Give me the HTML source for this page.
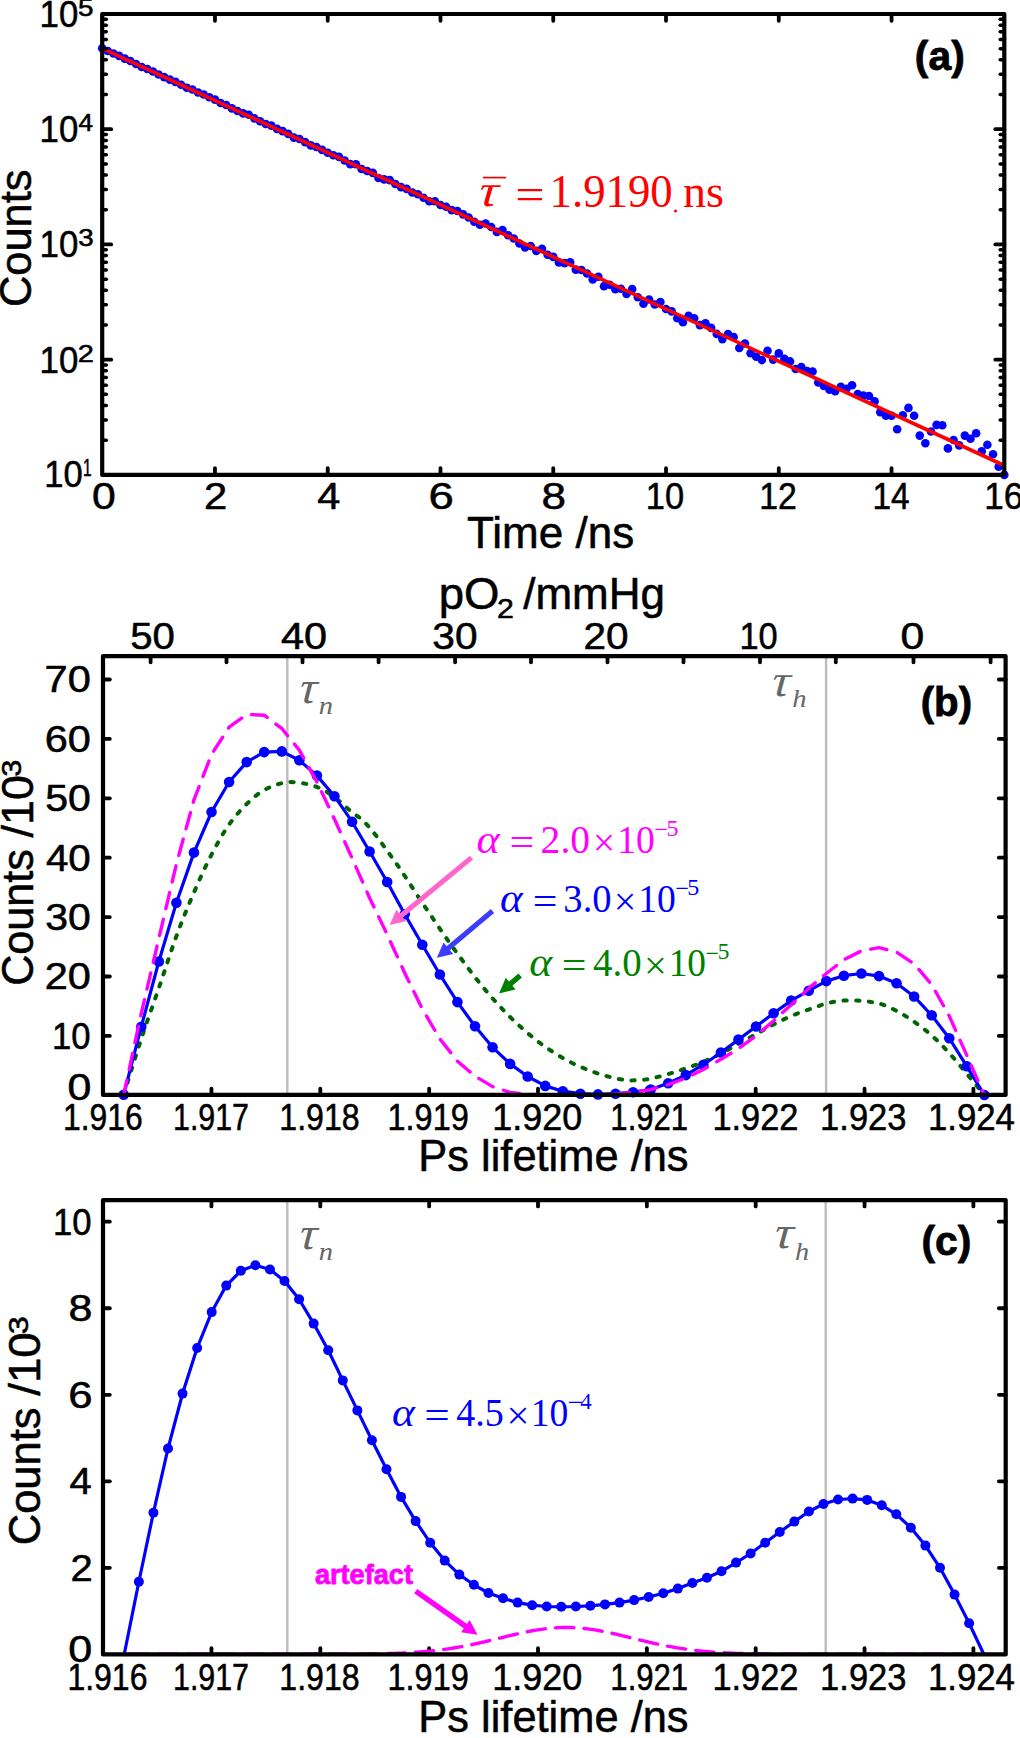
<!DOCTYPE html>
<html lang="en"><head><meta charset="utf-8"><title>Figure</title>
<style>html,body{margin:0;padding:0;background:#fff}svg{display:block}text{white-space:pre}</style></head>
<body>
<svg width="1020" height="1738" viewBox="0 0 1020 1738">
<rect width="1020" height="1738" fill="#fff"/>
<g fill="#0000ff"><circle cx="102.20" cy="48.30" r="4.3"/><circle cx="107.84" cy="50.99" r="4.3"/><circle cx="113.48" cy="53.44" r="4.3"/><circle cx="119.11" cy="55.87" r="4.3"/><circle cx="124.75" cy="58.60" r="4.3"/><circle cx="130.39" cy="61.04" r="4.3"/><circle cx="136.03" cy="63.96" r="4.3"/><circle cx="141.67" cy="66.98" r="4.3"/><circle cx="147.31" cy="69.00" r="4.3"/><circle cx="152.94" cy="71.56" r="4.3"/><circle cx="158.58" cy="74.54" r="4.3"/><circle cx="164.22" cy="77.11" r="4.3"/><circle cx="169.86" cy="79.63" r="4.3"/><circle cx="175.50" cy="81.85" r="4.3"/><circle cx="181.13" cy="84.79" r="4.3"/><circle cx="186.77" cy="87.68" r="4.3"/><circle cx="192.41" cy="89.48" r="4.3"/><circle cx="198.05" cy="92.44" r="4.3"/><circle cx="203.69" cy="94.44" r="4.3"/><circle cx="209.32" cy="97.29" r="4.3"/><circle cx="214.96" cy="99.63" r="4.3"/><circle cx="220.60" cy="102.95" r="4.3"/><circle cx="226.24" cy="105.07" r="4.3"/><circle cx="231.88" cy="108.40" r="4.3"/><circle cx="237.51" cy="110.96" r="4.3"/><circle cx="243.15" cy="113.39" r="4.3"/><circle cx="248.79" cy="114.79" r="4.3"/><circle cx="254.43" cy="118.42" r="4.3"/><circle cx="260.07" cy="121.28" r="4.3"/><circle cx="265.71" cy="123.98" r="4.3"/><circle cx="271.34" cy="125.65" r="4.3"/><circle cx="276.98" cy="128.85" r="4.3"/><circle cx="282.62" cy="131.15" r="4.3"/><circle cx="288.26" cy="133.84" r="4.3"/><circle cx="293.90" cy="137.63" r="4.3"/><circle cx="299.53" cy="139.03" r="4.3"/><circle cx="305.17" cy="142.15" r="4.3"/><circle cx="310.81" cy="145.39" r="4.3"/><circle cx="316.45" cy="146.97" r="4.3"/><circle cx="322.09" cy="149.91" r="4.3"/><circle cx="327.73" cy="152.68" r="4.3"/><circle cx="333.36" cy="155.26" r="4.3"/><circle cx="339.00" cy="156.85" r="4.3"/><circle cx="344.64" cy="160.48" r="4.3"/><circle cx="350.28" cy="164.16" r="4.3"/><circle cx="355.92" cy="164.32" r="4.3"/><circle cx="361.55" cy="168.99" r="4.3"/><circle cx="367.19" cy="170.96" r="4.3"/><circle cx="372.83" cy="172.87" r="4.3"/><circle cx="378.47" cy="177.95" r="4.3"/><circle cx="384.11" cy="179.41" r="4.3"/><circle cx="389.74" cy="180.09" r="4.3"/><circle cx="395.38" cy="183.97" r="4.3"/><circle cx="401.02" cy="187.10" r="4.3"/><circle cx="406.66" cy="188.90" r="4.3"/><circle cx="412.30" cy="192.47" r="4.3"/><circle cx="417.93" cy="194.24" r="4.3"/><circle cx="423.57" cy="197.70" r="4.3"/><circle cx="429.21" cy="201.25" r="4.3"/><circle cx="434.85" cy="201.32" r="4.3"/><circle cx="440.49" cy="205.01" r="4.3"/><circle cx="446.13" cy="206.76" r="4.3"/><circle cx="451.76" cy="210.13" r="4.3"/><circle cx="457.40" cy="210.96" r="4.3"/><circle cx="463.04" cy="214.37" r="4.3"/><circle cx="468.68" cy="217.51" r="4.3"/><circle cx="474.32" cy="221.72" r="4.3"/><circle cx="479.95" cy="224.73" r="4.3"/><circle cx="485.59" cy="223.56" r="4.3"/><circle cx="491.23" cy="226.96" r="4.3"/><circle cx="496.87" cy="231.88" r="4.3"/><circle cx="502.51" cy="230.10" r="4.3"/><circle cx="508.14" cy="235.24" r="4.3"/><circle cx="513.78" cy="238.48" r="4.3"/><circle cx="519.42" cy="243.53" r="4.3"/><circle cx="525.06" cy="247.36" r="4.3"/><circle cx="530.70" cy="245.97" r="4.3"/><circle cx="536.34" cy="250.88" r="4.3"/><circle cx="541.97" cy="248.69" r="4.3"/><circle cx="547.61" cy="254.79" r="4.3"/><circle cx="553.25" cy="256.90" r="4.3"/><circle cx="558.89" cy="262.51" r="4.3"/><circle cx="564.53" cy="263.12" r="4.3"/><circle cx="570.16" cy="262.22" r="4.3"/><circle cx="575.80" cy="269.63" r="4.3"/><circle cx="581.44" cy="269.94" r="4.3"/><circle cx="587.08" cy="273.54" r="4.3"/><circle cx="592.72" cy="279.45" r="4.3"/><circle cx="598.35" cy="276.76" r="4.3"/><circle cx="603.99" cy="286.17" r="4.3"/><circle cx="609.63" cy="284.78" r="4.3"/><circle cx="615.27" cy="289.28" r="4.3"/><circle cx="620.91" cy="288.69" r="4.3"/><circle cx="626.55" cy="294.00" r="4.3"/><circle cx="632.18" cy="289.10" r="4.3"/><circle cx="637.82" cy="297.21" r="4.3"/><circle cx="643.46" cy="303.82" r="4.3"/><circle cx="649.10" cy="299.53" r="4.3"/><circle cx="654.74" cy="304.44" r="4.3"/><circle cx="660.37" cy="301.94" r="4.3"/><circle cx="666.01" cy="309.05" r="4.3"/><circle cx="671.65" cy="311.36" r="4.3"/><circle cx="677.29" cy="318.17" r="4.3"/><circle cx="682.93" cy="322.17" r="4.3"/><circle cx="688.57" cy="315.68" r="4.3"/><circle cx="694.20" cy="318.19" r="4.3"/><circle cx="699.84" cy="325.09" r="4.3"/><circle cx="705.48" cy="323.30" r="4.3"/><circle cx="711.12" cy="327.91" r="4.3"/><circle cx="716.76" cy="333.92" r="4.3"/><circle cx="722.39" cy="339.12" r="4.3"/><circle cx="728.03" cy="333.93" r="4.3"/><circle cx="733.67" cy="337.04" r="4.3"/><circle cx="739.31" cy="347.95" r="4.3"/><circle cx="744.95" cy="343.56" r="4.3"/><circle cx="750.58" cy="353.16" r="4.3"/><circle cx="756.22" cy="356.77" r="4.3"/><circle cx="761.86" cy="360.08" r="4.3"/><circle cx="767.50" cy="350.69" r="4.3"/><circle cx="773.14" cy="359.59" r="4.3"/><circle cx="778.77" cy="353.40" r="4.3"/><circle cx="784.41" cy="358.81" r="4.3"/><circle cx="790.05" cy="361.42" r="4.3"/><circle cx="795.69" cy="369.02" r="4.3"/><circle cx="801.33" cy="366.93" r="4.3"/><circle cx="806.97" cy="371.04" r="4.3"/><circle cx="812.60" cy="371.54" r="4.3"/><circle cx="818.24" cy="382.45" r="4.3"/><circle cx="823.88" cy="386.06" r="4.3"/><circle cx="829.52" cy="389.67" r="4.3"/><circle cx="835.16" cy="391.28" r="4.3"/><circle cx="840.79" cy="386.88" r="4.3"/><circle cx="846.43" cy="388.79" r="4.3"/><circle cx="852.07" cy="385.20" r="4.3"/><circle cx="857.71" cy="394.10" r="4.3"/><circle cx="863.35" cy="395.60" r="4.3"/><circle cx="868.99" cy="396.00" r="4.3"/><circle cx="874.62" cy="401.40" r="4.3"/><circle cx="880.26" cy="412.20" r="4.3"/><circle cx="885.90" cy="415.70" r="4.3"/><circle cx="891.54" cy="415.70" r="4.3"/><circle cx="897.18" cy="429.30" r="4.3"/><circle cx="902.81" cy="415.30" r="4.3"/><circle cx="908.45" cy="407.90" r="4.3"/><circle cx="914.09" cy="415.70" r="4.3"/><circle cx="919.73" cy="435.60" r="4.3"/><circle cx="925.37" cy="443.20" r="4.3"/><circle cx="931.00" cy="431.50" r="4.3"/><circle cx="936.64" cy="424.90" r="4.3"/><circle cx="942.28" cy="425.30" r="4.3"/><circle cx="947.92" cy="448.40" r="4.3"/><circle cx="953.56" cy="440.00" r="4.3"/><circle cx="959.19" cy="445.40" r="4.3"/><circle cx="964.83" cy="435.60" r="4.3"/><circle cx="970.47" cy="438.80" r="4.3"/><circle cx="976.11" cy="433.20" r="4.3"/><circle cx="981.75" cy="451.30" r="4.3"/><circle cx="987.39" cy="444.70" r="4.3"/><circle cx="993.02" cy="454.30" r="4.3"/><circle cx="998.66" cy="466.80" r="4.3"/><circle cx="1004.30" cy="474.90" r="4.3"/></g>
<line x1="102.20" y1="48.30" x2="1004.30" y2="465.50" stroke="#ff0000" stroke-width="3.6" stroke-linecap="butt" />
<rect x="102.20" y="14.00" width="902.10" height="460.90" fill="none" stroke="#000" stroke-width="4.2" stroke-linejoin="round"/>
<g stroke="#000" stroke-width="3.8" stroke-linecap="round">
<line x1="214.96" y1="474.9" x2="214.96" y2="468.10"/><line x1="214.96" y1="14.0" x2="214.96" y2="20.80"/>
<line x1="327.72" y1="474.9" x2="327.72" y2="468.10"/><line x1="327.72" y1="14.0" x2="327.72" y2="20.80"/>
<line x1="440.49" y1="474.9" x2="440.49" y2="468.10"/><line x1="440.49" y1="14.0" x2="440.49" y2="20.80"/>
<line x1="553.25" y1="474.9" x2="553.25" y2="468.10"/><line x1="553.25" y1="14.0" x2="553.25" y2="20.80"/>
<line x1="666.01" y1="474.9" x2="666.01" y2="468.10"/><line x1="666.01" y1="14.0" x2="666.01" y2="20.80"/>
<line x1="778.77" y1="474.9" x2="778.77" y2="468.10"/><line x1="778.77" y1="14.0" x2="778.77" y2="20.80"/>
<line x1="891.54" y1="474.9" x2="891.54" y2="468.10"/><line x1="891.54" y1="14.0" x2="891.54" y2="20.80"/>
<line x1="102.2" y1="94.54" x2="106.30" y2="94.54" stroke-width="3.5"/><line x1="1004.3" y1="94.54" x2="1000.20" y2="94.54" stroke-width="3.5"/>
<line x1="102.2" y1="74.25" x2="106.30" y2="74.25" stroke-width="3.5"/><line x1="1004.3" y1="74.25" x2="1000.20" y2="74.25" stroke-width="3.5"/>
<line x1="102.2" y1="59.85" x2="106.30" y2="59.85" stroke-width="3.5"/><line x1="1004.3" y1="59.85" x2="1000.20" y2="59.85" stroke-width="3.5"/>
<line x1="102.2" y1="48.69" x2="106.30" y2="48.69" stroke-width="3.5"/><line x1="1004.3" y1="48.69" x2="1000.20" y2="48.69" stroke-width="3.5"/>
<line x1="102.2" y1="39.56" x2="106.30" y2="39.56" stroke-width="3.5"/><line x1="1004.3" y1="39.56" x2="1000.20" y2="39.56" stroke-width="3.5"/>
<line x1="102.2" y1="31.85" x2="106.30" y2="31.85" stroke-width="3.5"/><line x1="1004.3" y1="31.85" x2="1000.20" y2="31.85" stroke-width="3.5"/>
<line x1="102.2" y1="25.17" x2="106.30" y2="25.17" stroke-width="3.5"/><line x1="1004.3" y1="25.17" x2="1000.20" y2="25.17" stroke-width="3.5"/>
<line x1="102.2" y1="19.27" x2="106.30" y2="19.27" stroke-width="3.5"/><line x1="1004.3" y1="19.27" x2="1000.20" y2="19.27" stroke-width="3.5"/>
<line x1="102.2" y1="129.22" x2="111.20" y2="129.22"/><line x1="1004.3" y1="129.22" x2="995.30" y2="129.22"/>
<line x1="102.2" y1="209.76" x2="106.30" y2="209.76" stroke-width="3.5"/><line x1="1004.3" y1="209.76" x2="1000.20" y2="209.76" stroke-width="3.5"/>
<line x1="102.2" y1="189.47" x2="106.30" y2="189.47" stroke-width="3.5"/><line x1="1004.3" y1="189.47" x2="1000.20" y2="189.47" stroke-width="3.5"/>
<line x1="102.2" y1="175.08" x2="106.30" y2="175.08" stroke-width="3.5"/><line x1="1004.3" y1="175.08" x2="1000.20" y2="175.08" stroke-width="3.5"/>
<line x1="102.2" y1="163.91" x2="106.30" y2="163.91" stroke-width="3.5"/><line x1="1004.3" y1="163.91" x2="1000.20" y2="163.91" stroke-width="3.5"/>
<line x1="102.2" y1="154.79" x2="106.30" y2="154.79" stroke-width="3.5"/><line x1="1004.3" y1="154.79" x2="1000.20" y2="154.79" stroke-width="3.5"/>
<line x1="102.2" y1="147.07" x2="106.30" y2="147.07" stroke-width="3.5"/><line x1="1004.3" y1="147.07" x2="1000.20" y2="147.07" stroke-width="3.5"/>
<line x1="102.2" y1="140.39" x2="106.30" y2="140.39" stroke-width="3.5"/><line x1="1004.3" y1="140.39" x2="1000.20" y2="140.39" stroke-width="3.5"/>
<line x1="102.2" y1="134.50" x2="106.30" y2="134.50" stroke-width="3.5"/><line x1="1004.3" y1="134.50" x2="1000.20" y2="134.50" stroke-width="3.5"/>
<line x1="102.2" y1="244.45" x2="111.20" y2="244.45"/><line x1="1004.3" y1="244.45" x2="995.30" y2="244.45"/>
<line x1="102.2" y1="324.99" x2="106.30" y2="324.99" stroke-width="3.5"/><line x1="1004.3" y1="324.99" x2="1000.20" y2="324.99" stroke-width="3.5"/>
<line x1="102.2" y1="304.70" x2="106.30" y2="304.70" stroke-width="3.5"/><line x1="1004.3" y1="304.70" x2="1000.20" y2="304.70" stroke-width="3.5"/>
<line x1="102.2" y1="290.30" x2="106.30" y2="290.30" stroke-width="3.5"/><line x1="1004.3" y1="290.30" x2="1000.20" y2="290.30" stroke-width="3.5"/>
<line x1="102.2" y1="279.14" x2="106.30" y2="279.14" stroke-width="3.5"/><line x1="1004.3" y1="279.14" x2="1000.20" y2="279.14" stroke-width="3.5"/>
<line x1="102.2" y1="270.01" x2="106.30" y2="270.01" stroke-width="3.5"/><line x1="1004.3" y1="270.01" x2="1000.20" y2="270.01" stroke-width="3.5"/>
<line x1="102.2" y1="262.30" x2="106.30" y2="262.30" stroke-width="3.5"/><line x1="1004.3" y1="262.30" x2="1000.20" y2="262.30" stroke-width="3.5"/>
<line x1="102.2" y1="255.62" x2="106.30" y2="255.62" stroke-width="3.5"/><line x1="1004.3" y1="255.62" x2="1000.20" y2="255.62" stroke-width="3.5"/>
<line x1="102.2" y1="249.72" x2="106.30" y2="249.72" stroke-width="3.5"/><line x1="1004.3" y1="249.72" x2="1000.20" y2="249.72" stroke-width="3.5"/>
<line x1="102.2" y1="359.67" x2="111.20" y2="359.67"/><line x1="1004.3" y1="359.67" x2="995.30" y2="359.67"/>
<line x1="102.2" y1="440.21" x2="106.30" y2="440.21" stroke-width="3.5"/><line x1="1004.3" y1="440.21" x2="1000.20" y2="440.21" stroke-width="3.5"/>
<line x1="102.2" y1="419.92" x2="106.30" y2="419.92" stroke-width="3.5"/><line x1="1004.3" y1="419.92" x2="1000.20" y2="419.92" stroke-width="3.5"/>
<line x1="102.2" y1="405.53" x2="106.30" y2="405.53" stroke-width="3.5"/><line x1="1004.3" y1="405.53" x2="1000.20" y2="405.53" stroke-width="3.5"/>
<line x1="102.2" y1="394.36" x2="106.30" y2="394.36" stroke-width="3.5"/><line x1="1004.3" y1="394.36" x2="1000.20" y2="394.36" stroke-width="3.5"/>
<line x1="102.2" y1="385.24" x2="106.30" y2="385.24" stroke-width="3.5"/><line x1="1004.3" y1="385.24" x2="1000.20" y2="385.24" stroke-width="3.5"/>
<line x1="102.2" y1="377.52" x2="106.30" y2="377.52" stroke-width="3.5"/><line x1="1004.3" y1="377.52" x2="1000.20" y2="377.52" stroke-width="3.5"/>
<line x1="102.2" y1="370.84" x2="106.30" y2="370.84" stroke-width="3.5"/><line x1="1004.3" y1="370.84" x2="1000.20" y2="370.84" stroke-width="3.5"/>
<line x1="102.2" y1="364.95" x2="106.30" y2="364.95" stroke-width="3.5"/><line x1="1004.3" y1="364.95" x2="1000.20" y2="364.95" stroke-width="3.5"/>
</g>
<text transform="translate(39.59,27.00) scale(0.9277,1)" font-family='"Liberation Sans", Arial, sans-serif' font-size="37.50" font-weight="normal" font-style="normal" fill="#000" stroke="#000" stroke-width="0.55" stroke-linejoin="round">10</text>
<text transform="translate(78.09,16.00) scale(1.1343,1)" font-family='"Liberation Sans", Arial, sans-serif' font-size="24.50" font-weight="normal" font-style="normal" fill="#000" stroke="#000" stroke-width="0.55" stroke-linejoin="round">5</text>
<text transform="translate(39.59,142.22) scale(0.9277,1)" font-family='"Liberation Sans", Arial, sans-serif' font-size="37.50" font-weight="normal" font-style="normal" fill="#000" stroke="#000" stroke-width="0.55" stroke-linejoin="round">10</text>
<text transform="translate(78.61,131.22) scale(1.0669,1)" font-family='"Liberation Sans", Arial, sans-serif' font-size="24.50" font-weight="normal" font-style="normal" fill="#000" stroke="#000" stroke-width="0.55" stroke-linejoin="round">4</text>
<text transform="translate(39.59,257.45) scale(0.9277,1)" font-family='"Liberation Sans", Arial, sans-serif' font-size="37.50" font-weight="normal" font-style="normal" fill="#000" stroke="#000" stroke-width="0.55" stroke-linejoin="round">10</text>
<text transform="translate(78.16,246.45) scale(1.1343,1)" font-family='"Liberation Sans", Arial, sans-serif' font-size="24.50" font-weight="normal" font-style="normal" fill="#000" stroke="#000" stroke-width="0.55" stroke-linejoin="round">3</text>
<text transform="translate(39.59,372.67) scale(0.9277,1)" font-family='"Liberation Sans", Arial, sans-serif' font-size="37.50" font-weight="normal" font-style="normal" fill="#000" stroke="#000" stroke-width="0.55" stroke-linejoin="round">10</text>
<text transform="translate(77.75,361.67) scale(1.1841,1)" font-family='"Liberation Sans", Arial, sans-serif' font-size="24.50" font-weight="normal" font-style="normal" fill="#000" stroke="#000" stroke-width="0.55" stroke-linejoin="round">2</text>
<text transform="translate(44.31,487.30) scale(0.9223,1)" font-family='"Liberation Sans", Arial, sans-serif' font-size="37.50" font-weight="normal" font-style="normal" fill="#000" stroke="#000" stroke-width="0.55" stroke-linejoin="round">10</text>
<text transform="translate(82.94,476.30) scale(0.6323,1)" font-family='"Liberation Sans", Arial, sans-serif' font-size="24.50" font-weight="normal" font-style="normal" fill="#000" stroke="#000" stroke-width="0.55" stroke-linejoin="round">1</text>
<text transform="translate(91.89,509.00) scale(1.1393,1)" font-family='"Liberation Sans", Arial, sans-serif' font-size="37.50" font-weight="normal" font-style="normal" fill="#000" stroke="#000" stroke-width="0.55" stroke-linejoin="round">0</text>
<text transform="translate(203.91,509.00) scale(1.1136,1)" font-family='"Liberation Sans", Arial, sans-serif' font-size="37.50" font-weight="normal" font-style="normal" fill="#000" stroke="#000" stroke-width="0.55" stroke-linejoin="round">2</text>
<text transform="translate(317.36,509.00) scale(1.1089,1)" font-family='"Liberation Sans", Arial, sans-serif' font-size="37.50" font-weight="normal" font-style="normal" fill="#000" stroke="#000" stroke-width="0.55" stroke-linejoin="round">4</text>
<text transform="translate(428.43,509.00) scale(1.2108,1)" font-family='"Liberation Sans", Arial, sans-serif' font-size="37.50" font-weight="normal" font-style="normal" fill="#000" stroke="#000" stroke-width="0.55" stroke-linejoin="round">6</text>
<text transform="translate(541.43,509.00) scale(1.1745,1)" font-family='"Liberation Sans", Arial, sans-serif' font-size="37.50" font-weight="normal" font-style="normal" fill="#000" stroke="#000" stroke-width="0.55" stroke-linejoin="round">8</text>
<text transform="translate(645.71,509.00) scale(0.9196,1)" font-family='"Liberation Sans", Arial, sans-serif' font-size="37.50" font-weight="normal" font-style="normal" fill="#000" stroke="#000" stroke-width="0.55" stroke-linejoin="round">10</text>
<text transform="translate(759.16,509.00) scale(0.9015,1)" font-family='"Liberation Sans", Arial, sans-serif' font-size="37.50" font-weight="normal" font-style="normal" fill="#000" stroke="#000" stroke-width="0.55" stroke-linejoin="round">12</text>
<text transform="translate(872.39,509.00) scale(0.8920,1)" font-family='"Liberation Sans", Arial, sans-serif' font-size="37.50" font-weight="normal" font-style="normal" fill="#000" stroke="#000" stroke-width="0.55" stroke-linejoin="round">14</text>
<text transform="translate(984.37,509.00) scale(0.9350,1)" font-family='"Liberation Sans", Arial, sans-serif' font-size="37.50" font-weight="normal" font-style="normal" fill="#000" stroke="#000" stroke-width="0.55" stroke-linejoin="round">16</text>
<text transform="translate(467.01,547.70) scale(1.0009,1)" font-family='"Liberation Sans", Arial, sans-serif' font-size="44.00" font-weight="normal" font-style="normal" fill="#000" stroke="#000" stroke-width="0.55" stroke-linejoin="round">Time /ns</text>
<text transform="translate(31.30,307.07) rotate(-90) scale(0.9872,1)" font-family='"Liberation Sans", Arial, sans-serif' font-size="44.00" font-weight="normal" font-style="normal" fill="#000" stroke="#000" stroke-width="0.55" stroke-linejoin="round">Counts</text>
<text transform="translate(914.86,70.40) scale(1.0200,1)" font-family='"Liberation Sans", Arial, sans-serif' font-size="40.00" font-weight="bold" font-style="normal" fill="#000" stroke="#000" stroke-width="0.8" stroke-linejoin="round">(a)</text>
<line x1="483.00" y1="177.60" x2="506.00" y2="177.60" stroke="#ff0000" stroke-width="1.7" stroke-linecap="butt" />
<text transform="translate(475.12,206.30) scale(1.1492,1) skewX(-14)" font-family='"Liberation Serif", "Times New Roman", serif' font-size="45.50" font-weight="normal" font-style="normal" fill="#ff0000">τ</text>
<text transform="translate(515.20,209.70) scale(1.1192,1)" font-family='"Liberation Serif", "Times New Roman", serif' font-size="46.50" font-weight="normal" font-style="normal" fill="#ff0000">=</text>
<text transform="translate(549.58,206.50) scale(0.9524,1)" font-family='"Liberation Serif", "Times New Roman", serif' font-size="47.00" font-weight="normal" font-style="normal" fill="#ff0000">1.9190</text>
<circle cx="675.5" cy="211" r="1.5" fill="#ff0000"/>
<text transform="translate(682.96,206.50) scale(0.9898,1)" font-family='"Liberation Serif", "Times New Roman", serif' font-size="46.50" font-weight="normal" font-style="normal" fill="#ff0000">ns</text>
<line x1="287.30" y1="656.10" x2="287.30" y2="1094.90" stroke="#bdbdbd" stroke-width="2.4" stroke-linecap="butt" />
<line x1="826.10" y1="656.10" x2="826.10" y2="1094.90" stroke="#bdbdbd" stroke-width="2.4" stroke-linecap="butt" />
<g stroke="#000" stroke-width="3.8" stroke-linecap="round">
<line x1="211.45" y1="1094.9" x2="211.45" y2="1088.70"/>
<line x1="320.30" y1="1094.9" x2="320.30" y2="1088.70"/>
<line x1="429.15" y1="1094.9" x2="429.15" y2="1088.70"/>
<line x1="538.00" y1="1094.9" x2="538.00" y2="1088.70"/>
<line x1="646.85" y1="1094.9" x2="646.85" y2="1088.70"/>
<line x1="755.70" y1="1094.9" x2="755.70" y2="1088.70"/>
<line x1="864.55" y1="1094.9" x2="864.55" y2="1088.70"/>
<line x1="973.40" y1="1094.9" x2="973.40" y2="1088.70"/>
<line x1="150.60" y1="656.1" x2="150.60" y2="662.30"/>
<line x1="226.50" y1="656.1" x2="226.50" y2="662.30"/>
<line x1="302.50" y1="656.1" x2="302.50" y2="662.30"/>
<line x1="378.60" y1="656.1" x2="378.60" y2="662.30"/>
<line x1="455.10" y1="656.1" x2="455.10" y2="662.30"/>
<line x1="531.00" y1="656.1" x2="531.00" y2="662.30"/>
<line x1="607.50" y1="656.1" x2="607.50" y2="662.30"/>
<line x1="683.50" y1="656.1" x2="683.50" y2="662.30"/>
<line x1="760.00" y1="656.1" x2="760.00" y2="662.30"/>
<line x1="835.80" y1="656.1" x2="835.80" y2="662.30"/>
<line x1="913.50" y1="656.1" x2="913.50" y2="662.30"/>
<line x1="990.60" y1="656.1" x2="990.60" y2="662.30"/>
<line x1="103.0" y1="1035.90" x2="109.80" y2="1035.90"/><line x1="1005.6" y1="1035.90" x2="998.80" y2="1035.90"/>
<line x1="103.0" y1="976.50" x2="109.80" y2="976.50"/><line x1="1005.6" y1="976.50" x2="998.80" y2="976.50"/>
<line x1="103.0" y1="917.10" x2="109.80" y2="917.10"/><line x1="1005.6" y1="917.10" x2="998.80" y2="917.10"/>
<line x1="103.0" y1="857.70" x2="109.80" y2="857.70"/><line x1="1005.6" y1="857.70" x2="998.80" y2="857.70"/>
<line x1="103.0" y1="798.30" x2="109.80" y2="798.30"/><line x1="1005.6" y1="798.30" x2="998.80" y2="798.30"/>
<line x1="103.0" y1="738.90" x2="109.80" y2="738.90"/><line x1="1005.6" y1="738.90" x2="998.80" y2="738.90"/>
<line x1="103.0" y1="679.50" x2="109.80" y2="679.50"/><line x1="1005.6" y1="679.50" x2="998.80" y2="679.50"/>
</g>
<polyline points="123.70,1095.00 126.58,1085.45 129.46,1076.03 132.33,1066.76 135.21,1057.63 138.09,1048.65 140.97,1039.81 143.85,1031.18 146.72,1022.77 149.60,1014.52 152.48,1006.33 155.36,998.13 158.24,989.84 161.11,981.36 163.99,972.69 166.87,963.96 169.75,955.28 172.62,946.78 175.50,938.60 178.38,930.81 181.26,923.28 184.14,915.96 187.01,908.84 189.89,901.91 192.77,895.14 195.65,888.51 198.53,881.98 201.40,875.56 204.28,869.32 207.16,863.27 210.04,857.47 212.92,851.95 215.79,846.58 218.67,841.36 221.55,836.34 224.43,831.58 227.31,827.14 230.18,823.06 233.06,819.25 235.94,815.64 238.82,812.24 241.69,809.04 244.57,806.05 247.45,803.27 250.33,800.60 253.21,798.01 256.08,795.57 258.96,793.33 261.84,791.35 264.72,789.69 267.60,788.28 270.47,786.97 273.35,785.79 276.23,784.76 279.11,783.89 281.99,783.20 284.86,782.61 287.74,782.14 290.62,782.00 293.50,782.13 296.38,782.39 299.25,782.69 302.13,783.08 305.01,783.60 307.89,784.24 310.77,784.99 313.64,785.84 316.52,786.77 319.40,787.86 322.28,789.25 325.15,790.91 328.03,792.75 330.91,794.72 333.79,796.74 336.67,798.83 339.54,801.19 342.42,803.75 345.30,806.40 348.18,809.02 351.06,811.51 353.93,813.75 356.81,815.73 359.69,817.79 362.57,820.26 365.45,823.08 368.32,826.18 371.20,829.53 374.08,833.08 376.96,836.79 379.84,840.63 382.71,844.57 385.59,848.56 388.47,852.56 391.35,856.55 394.23,860.50 397.10,864.58 399.98,868.78 402.86,873.07 405.74,877.44 408.61,881.85 411.49,886.30 414.37,890.75 417.25,895.17 420.13,899.56 423.00,903.88 425.88,908.13 428.76,912.38 431.64,916.64 434.52,920.89 437.39,925.13 440.27,929.35 443.15,933.54 446.03,937.69 448.91,941.80 451.78,945.85 454.66,949.85 457.54,953.79 460.42,957.73 463.30,961.64 466.17,965.53 469.05,969.37 471.93,973.17 474.81,976.92 477.68,980.59 480.56,984.19 483.44,987.71 486.32,991.12 489.20,994.46 492.07,997.74 494.95,1000.98 497.83,1004.16 500.71,1007.28 503.59,1010.34 506.46,1013.32 509.34,1016.24 512.22,1019.08 515.10,1021.83 517.98,1024.50 520.85,1027.09 523.73,1029.65 526.61,1032.16 529.49,1034.61 532.37,1037.00 535.24,1039.33 538.12,1041.59 541.00,1043.78 543.88,1045.88 546.76,1047.90 549.63,1049.82 552.51,1051.68 555.39,1053.50 558.27,1055.27 561.14,1057.00 564.02,1058.67 566.90,1060.27 569.78,1061.81 572.66,1063.29 575.53,1064.68 578.41,1065.99 581.29,1067.22 584.17,1068.39 587.05,1069.54 589.92,1070.65 592.80,1071.71 595.68,1072.74 598.56,1073.71 601.44,1074.62 604.31,1075.47 607.19,1076.26 610.07,1076.98 612.95,1077.62 615.83,1078.26 618.70,1078.90 621.58,1079.49 624.46,1079.97 627.34,1080.29 630.22,1080.40 633.09,1080.36 635.97,1080.24 638.85,1080.08 641.73,1079.87 644.60,1079.63 647.48,1079.30 650.36,1078.78 653.24,1078.12 656.12,1077.39 658.99,1076.65 661.87,1075.92 664.75,1075.12 667.63,1074.28 670.51,1073.40 673.38,1072.48 676.26,1071.55 679.14,1070.62 682.02,1069.68 684.90,1068.72 687.77,1067.75 690.65,1066.74 693.53,1065.70 696.41,1064.63 699.29,1063.51 702.16,1062.34 705.04,1061.12 707.92,1059.85 710.80,1058.54 713.67,1057.19 716.55,1055.81 719.43,1054.38 722.31,1052.89 725.19,1051.32 728.06,1049.71 730.94,1048.08 733.82,1046.44 736.70,1044.82 739.58,1043.23 742.45,1041.64 745.33,1040.06 748.21,1038.47 751.09,1036.88 753.97,1035.30 756.84,1033.72 759.72,1032.12 762.60,1030.50 765.48,1028.87 768.36,1027.25 771.23,1025.67 774.11,1024.13 776.99,1022.65 779.87,1021.24 782.75,1019.87 785.62,1018.52 788.50,1017.22 791.38,1015.97 794.26,1014.76 797.13,1013.61 800.01,1012.52 802.89,1011.50 805.77,1010.52 808.65,1009.56 811.52,1008.60 814.40,1007.63 817.28,1006.62 820.16,1005.49 823.04,1004.39 825.91,1003.52 828.79,1002.86 831.67,1002.23 834.55,1001.67 837.43,1001.19 840.30,1000.83 843.18,1000.62 846.06,1000.52 848.94,1000.45 851.82,1000.40 854.69,1000.42 857.57,1000.55 860.45,1000.74 863.33,1000.96 866.21,1001.27 869.08,1001.66 871.96,1002.13 874.84,1002.66 877.72,1003.26 880.59,1003.96 883.47,1004.88 886.35,1006.01 889.23,1007.29 892.11,1008.67 894.98,1010.10 897.86,1011.55 900.74,1013.12 903.62,1014.83 906.50,1016.64 909.37,1018.52 912.25,1020.47 915.13,1022.45 918.01,1024.51 920.89,1026.65 923.76,1028.87 926.64,1031.18 929.52,1033.59 932.40,1036.09 935.28,1038.73 938.15,1041.51 941.03,1044.39 943.91,1047.36 946.79,1050.41 949.66,1053.51 952.54,1056.73 955.42,1060.06 958.30,1063.48 961.18,1066.95 964.05,1070.43 966.93,1073.90 969.81,1077.36 972.69,1080.85 975.57,1084.35 978.44,1087.88 981.32,1091.43 984.20,1095.00" fill="none" stroke="#006400" stroke-width="4.0" stroke-linejoin="round" stroke-dasharray="3.3 9.4" stroke-linecap="round"/>
<polyline points="123.70,1094.80 141.27,1026.70 158.83,961.50 176.40,902.80 193.96,852.60 211.53,812.00 229.09,782.00 246.66,762.10 264.22,752.10 281.79,751.40 299.35,760.30 316.92,775.60 334.48,796.20 352.05,821.70 369.61,851.50 387.18,882.00 404.74,914.30 422.31,944.70 439.87,974.50 457.44,1002.10 475.00,1026.30 492.56,1047.30 510.13,1063.90 527.70,1076.50 545.26,1085.90 562.83,1091.20 580.39,1093.70 597.96,1094.40 615.52,1093.70 633.09,1092.20 650.65,1089.60 668.22,1083.30 685.78,1075.10 703.35,1064.70 720.91,1052.50 738.48,1039.60 756.04,1026.50 773.61,1013.30 791.17,1000.60 808.74,990.70 826.30,981.10 843.87,975.70 861.43,973.50 879.00,976.10 896.56,983.30 914.13,996.50 931.69,1015.30 949.26,1038.20 966.82,1066.30 984.39,1095.00" fill="none" stroke="#0000ff" stroke-width="3.2" stroke-linejoin="round" />
<g fill="#0000ff"><circle cx="123.70" cy="1094.80" r="5.3"/><circle cx="141.27" cy="1026.70" r="5.3"/><circle cx="158.83" cy="961.50" r="5.3"/><circle cx="176.40" cy="902.80" r="5.3"/><circle cx="193.96" cy="852.60" r="5.3"/><circle cx="211.53" cy="812.00" r="5.3"/><circle cx="229.09" cy="782.00" r="5.3"/><circle cx="246.66" cy="762.10" r="5.3"/><circle cx="264.22" cy="752.10" r="5.3"/><circle cx="281.79" cy="751.40" r="5.3"/><circle cx="299.35" cy="760.30" r="5.3"/><circle cx="316.92" cy="775.60" r="5.3"/><circle cx="334.48" cy="796.20" r="5.3"/><circle cx="352.05" cy="821.70" r="5.3"/><circle cx="369.61" cy="851.50" r="5.3"/><circle cx="387.18" cy="882.00" r="5.3"/><circle cx="404.74" cy="914.30" r="5.3"/><circle cx="422.31" cy="944.70" r="5.3"/><circle cx="439.87" cy="974.50" r="5.3"/><circle cx="457.44" cy="1002.10" r="5.3"/><circle cx="475.00" cy="1026.30" r="5.3"/><circle cx="492.56" cy="1047.30" r="5.3"/><circle cx="510.13" cy="1063.90" r="5.3"/><circle cx="527.70" cy="1076.50" r="5.3"/><circle cx="545.26" cy="1085.90" r="5.3"/><circle cx="562.83" cy="1091.20" r="5.3"/><circle cx="580.39" cy="1093.70" r="5.3"/><circle cx="597.96" cy="1094.40" r="5.3"/><circle cx="615.52" cy="1093.70" r="5.3"/><circle cx="633.09" cy="1092.20" r="5.3"/><circle cx="650.65" cy="1089.60" r="5.3"/><circle cx="668.22" cy="1083.30" r="5.3"/><circle cx="685.78" cy="1075.10" r="5.3"/><circle cx="703.35" cy="1064.70" r="5.3"/><circle cx="720.91" cy="1052.50" r="5.3"/><circle cx="738.48" cy="1039.60" r="5.3"/><circle cx="756.04" cy="1026.50" r="5.3"/><circle cx="773.61" cy="1013.30" r="5.3"/><circle cx="791.17" cy="1000.60" r="5.3"/><circle cx="808.74" cy="990.70" r="5.3"/><circle cx="826.30" cy="981.10" r="5.3"/><circle cx="843.87" cy="975.70" r="5.3"/><circle cx="861.43" cy="973.50" r="5.3"/><circle cx="879.00" cy="976.10" r="5.3"/><circle cx="896.56" cy="983.30" r="5.3"/><circle cx="914.13" cy="996.50" r="5.3"/><circle cx="931.69" cy="1015.30" r="5.3"/><circle cx="949.26" cy="1038.20" r="5.3"/><circle cx="966.82" cy="1066.30" r="5.3"/><circle cx="984.39" cy="1095.00" r="5.3"/></g>
<polyline points="123.70,1095.00 141.27,1013.30 158.83,938.50 176.40,864.02 193.96,799.82 211.53,754.45 229.09,727.21 246.66,714.40 264.22,715.20 281.79,728.48 299.35,750.17 316.92,782.03 334.48,819.17 352.05,858.11 369.61,897.98 387.18,934.58 404.74,972.95 422.31,1008.86 439.87,1038.90 457.44,1061.21 475.00,1076.13 492.56,1086.63 510.13,1092.45 527.70,1094.50 545.26,1094.93 562.83,1095.00 580.39,1095.00 597.96,1094.89 615.52,1094.17 633.09,1092.47 650.65,1089.62 668.22,1084.69 685.78,1078.04 703.35,1069.48 720.91,1059.34 738.48,1048.58 756.04,1035.90 773.61,1020.86 791.17,1004.72 808.74,988.40 826.30,973.50 843.87,959.70 861.43,950.96 879.00,947.60 896.56,952.06 914.13,963.89 931.69,984.57 949.26,1016.01 966.82,1055.40 984.20,1095.00" fill="none" stroke="#ff00ff" stroke-width="3.4" stroke-linejoin="round" stroke-dasharray="16.6 10.9" stroke-linecap="round" stroke-dashoffset="1.49"/>
<line x1="471.50" y1="857.60" x2="400.40" y2="916.20" stroke="#ff66cc" stroke-width="5.1" stroke-linecap="butt" />
<polygon points="389.60,925.10 396.41,909.77 405.95,921.35" fill="#ff66cc"/>
<line x1="492.50" y1="911.00" x2="447.61" y2="948.78" stroke="#3c3cff" stroke-width="5.0" stroke-linecap="butt" />
<polygon points="436.90,957.80 443.55,942.40 453.21,953.88" fill="#3c3cff"/>
<line x1="520.20" y1="975.50" x2="509.95" y2="984.29" stroke="#008000" stroke-width="5.4" stroke-linecap="butt" />
<polygon points="499.10,993.60 505.76,977.87 515.66,989.41" fill="#008000"/>
<rect x="103.00" y="656.10" width="902.60" height="438.80" fill="none" stroke="#000" stroke-width="4.2" stroke-linejoin="round"/>
<text transform="translate(130.19,649.20) scale(1.0863,1)" font-family='"Liberation Sans", Arial, sans-serif' font-size="37.00" font-weight="normal" font-style="normal" fill="#000" stroke="#000" stroke-width="0.55" stroke-linejoin="round">50</text>
<text transform="translate(281.07,649.20) scale(1.1197,1)" font-family='"Liberation Sans", Arial, sans-serif' font-size="37.00" font-weight="normal" font-style="normal" fill="#000" stroke="#000" stroke-width="0.55" stroke-linejoin="round">40</text>
<text transform="translate(432.37,649.20) scale(1.0994,1)" font-family='"Liberation Sans", Arial, sans-serif' font-size="37.00" font-weight="normal" font-style="normal" fill="#000" stroke="#000" stroke-width="0.55" stroke-linejoin="round">30</text>
<text transform="translate(583.47,649.20) scale(1.0969,1)" font-family='"Liberation Sans", Arial, sans-serif' font-size="37.00" font-weight="normal" font-style="normal" fill="#000" stroke="#000" stroke-width="0.55" stroke-linejoin="round">20</text>
<text transform="translate(739.42,649.20) scale(0.9294,1)" font-family='"Liberation Sans", Arial, sans-serif' font-size="37.00" font-weight="normal" font-style="normal" fill="#000" stroke="#000" stroke-width="0.55" stroke-linejoin="round">10</text>
<text transform="translate(900.49,649.20) scale(1.1547,1)" font-family='"Liberation Sans", Arial, sans-serif' font-size="37.00" font-weight="normal" font-style="normal" fill="#000" stroke="#000" stroke-width="0.55" stroke-linejoin="round">0</text>
<text transform="translate(438.74,609.20) scale(1.0339,1)" font-family='"Liberation Sans", Arial, sans-serif' font-size="44.00" font-weight="normal" font-style="normal" fill="#000" stroke="#000" stroke-width="0.55" stroke-linejoin="round">pO</text>
<text transform="translate(496.98,618.40) scale(1.1233,1)" font-family='"Liberation Sans", Arial, sans-serif' font-size="27.00" font-weight="normal" font-style="normal" fill="#000" stroke="#000" stroke-width="0.55" stroke-linejoin="round">2</text>
<text transform="translate(523.20,609.20) scale(1.0005,1)" font-family='"Liberation Sans", Arial, sans-serif' font-size="44.00" font-weight="normal" font-style="normal" fill="#000" stroke="#000" stroke-width="0.55" stroke-linejoin="round">/mmHg</text>
<text transform="translate(52.00,1048.80) scale(0.9375,1)" font-family='"Liberation Sans", Arial, sans-serif' font-size="37.00" font-weight="normal" font-style="normal" fill="#000" stroke="#000" stroke-width="0.55" stroke-linejoin="round">10</text>
<text transform="translate(44.73,989.40) scale(1.1207,1)" font-family='"Liberation Sans", Arial, sans-serif' font-size="37.00" font-weight="normal" font-style="normal" fill="#000" stroke="#000" stroke-width="0.55" stroke-linejoin="round">20</text>
<text transform="translate(45.26,930.00) scale(1.1072,1)" font-family='"Liberation Sans", Arial, sans-serif' font-size="37.00" font-weight="normal" font-style="normal" fill="#000" stroke="#000" stroke-width="0.55" stroke-linejoin="round">30</text>
<text transform="translate(45.89,870.60) scale(1.0914,1)" font-family='"Liberation Sans", Arial, sans-serif' font-size="37.00" font-weight="normal" font-style="normal" fill="#000" stroke="#000" stroke-width="0.55" stroke-linejoin="round">40</text>
<text transform="translate(45.16,811.20) scale(1.1099,1)" font-family='"Liberation Sans", Arial, sans-serif' font-size="37.00" font-weight="normal" font-style="normal" fill="#000" stroke="#000" stroke-width="0.55" stroke-linejoin="round">50</text>
<text transform="translate(44.73,751.80) scale(1.1207,1)" font-family='"Liberation Sans", Arial, sans-serif' font-size="37.00" font-weight="normal" font-style="normal" fill="#000" stroke="#000" stroke-width="0.55" stroke-linejoin="round">60</text>
<text transform="translate(44.62,692.40) scale(1.1235,1)" font-family='"Liberation Sans", Arial, sans-serif' font-size="37.00" font-weight="normal" font-style="normal" fill="#000" stroke="#000" stroke-width="0.55" stroke-linejoin="round">70</text>
<text transform="translate(67.58,1099.60) scale(1.1603,1)" font-family='"Liberation Sans", Arial, sans-serif' font-size="37.00" font-weight="normal" font-style="normal" fill="#000" stroke="#000" stroke-width="0.55" stroke-linejoin="round">0</text>
<text transform="translate(32.50,985.86) rotate(-90) scale(0.9806,1)" font-family='"Liberation Sans", Arial, sans-serif' font-size="44.00" font-weight="normal" font-style="normal" fill="#000" stroke="#000" stroke-width="0.55" stroke-linejoin="round">Counts</text>
<text transform="translate(32.50,837.50) rotate(-90) scale(1.0234,1)" font-family='"Liberation Sans", Arial, sans-serif' font-size="44.00" font-weight="normal" font-style="normal" fill="#000" stroke="#000" stroke-width="0.55" stroke-linejoin="round">/10</text>
<text transform="translate(20.90,776.75) rotate(-90) scale(1.1384,1)" font-family='"Liberation Sans", Arial, sans-serif' font-size="27.00" font-weight="normal" font-style="normal" fill="#000" stroke="#000" stroke-width="0.55" stroke-linejoin="round">3</text>
<text transform="translate(62.91,1129.80) scale(0.8612,1)" font-family='"Liberation Sans", Arial, sans-serif' font-size="37.00" font-weight="normal" font-style="normal" fill="#000" stroke="#000" stroke-width="0.55" stroke-linejoin="round">1.916</text>
<text transform="translate(173.02,1129.80) scale(0.8208,1)" font-family='"Liberation Sans", Arial, sans-serif' font-size="37.00" font-weight="normal" font-style="normal" fill="#000" stroke="#000" stroke-width="0.55" stroke-linejoin="round">1.917</text>
<text transform="translate(279.29,1129.80) scale(0.8680,1)" font-family='"Liberation Sans", Arial, sans-serif' font-size="37.00" font-weight="normal" font-style="normal" fill="#000" stroke="#000" stroke-width="0.55" stroke-linejoin="round">1.918</text>
<text transform="translate(387.57,1129.80) scale(0.8769,1)" font-family='"Liberation Sans", Arial, sans-serif' font-size="37.00" font-weight="normal" font-style="normal" fill="#000" stroke="#000" stroke-width="0.55" stroke-linejoin="round">1.919</text>
<text transform="translate(492.30,1129.80) scale(0.9725,1)" font-family='"Liberation Sans", Arial, sans-serif' font-size="37.00" font-weight="normal" font-style="normal" fill="#000" stroke="#000" stroke-width="0.55" stroke-linejoin="round">1.920</text>
<text transform="translate(610.37,1129.80) scale(0.8403,1)" font-family='"Liberation Sans", Arial, sans-serif' font-size="37.00" font-weight="normal" font-style="normal" fill="#000" stroke="#000" stroke-width="0.55" stroke-linejoin="round">1.921</text>
<text transform="translate(712.42,1129.80) scale(0.9288,1)" font-family='"Liberation Sans", Arial, sans-serif' font-size="37.00" font-weight="normal" font-style="normal" fill="#000" stroke="#000" stroke-width="0.55" stroke-linejoin="round">1.922</text>
<text transform="translate(820.11,1129.80) scale(0.9326,1)" font-family='"Liberation Sans", Arial, sans-serif' font-size="37.00" font-weight="normal" font-style="normal" fill="#000" stroke="#000" stroke-width="0.55" stroke-linejoin="round">1.923</text>
<text transform="translate(927.89,1129.80) scale(0.9403,1)" font-family='"Liberation Sans", Arial, sans-serif' font-size="37.00" font-weight="normal" font-style="normal" fill="#000" stroke="#000" stroke-width="0.55" stroke-linejoin="round">1.924</text>
<text transform="translate(418.32,1171.30) scale(0.9872,1)" font-family='"Liberation Sans", Arial, sans-serif' font-size="44.00" font-weight="normal" font-style="normal" fill="#000" stroke="#000" stroke-width="0.55" stroke-linejoin="round">Ps lifetime /ns</text>
<text transform="translate(920.69,715.90) scale(1.0064,1)" font-family='"Liberation Sans", Arial, sans-serif' font-size="40.00" font-weight="bold" font-style="normal" fill="#000" stroke="#000" stroke-width="0.8" stroke-linejoin="round">(b)</text>
<text transform="translate(296.08,702.70) scale(1.0400,1) skewX(-14)" font-family='"Liberation Serif", "Times New Roman", serif' font-size="45.50" font-weight="normal" font-style="normal" fill="#666666">τ</text>
<text transform="translate(318.81,713.90) scale(1.1593,1)" font-family='"Liberation Serif", "Times New Roman", serif' font-size="24.50" font-weight="normal" font-style="italic" fill="#666666">n</text>
<text transform="translate(768.34,695.70) scale(1.0860,1) skewX(-14)" font-family='"Liberation Serif", "Times New Roman", serif' font-size="45.50" font-weight="normal" font-style="normal" fill="#666666">τ</text>
<text transform="translate(792.23,707.10) scale(1.1074,1)" font-family='"Liberation Serif", "Times New Roman", serif' font-size="25.80" font-weight="normal" font-style="italic" fill="#666666">h</text>
<text transform="translate(476.57,853.00) scale(1.1073,1)" font-family='"Liberation Serif", "Times New Roman", serif' font-size="40.00" font-weight="normal" font-style="italic" fill="#ff00ff">α</text>
<text transform="translate(509.61,856.00) scale(1.0968,1)" font-family='"Liberation Serif", "Times New Roman", serif' font-size="40.00" font-weight="normal" font-style="normal" fill="#ff00ff">=</text>
<text transform="translate(540.62,853.00) scale(0.9893,1)" font-family='"Liberation Serif", "Times New Roman", serif' font-size="40.00" font-weight="normal" font-style="normal" fill="#ff00ff">2.0</text>
<text transform="translate(592.82,856.10) scale(0.9938,1)" font-family='"Liberation Serif", "Times New Roman", serif' font-size="40.00" font-weight="normal" font-style="normal" fill="#ff00ff">×</text>
<text transform="translate(617.21,853.00) scale(0.9400,1)" font-family='"Liberation Serif", "Times New Roman", serif' font-size="40.00" font-weight="normal" font-style="normal" fill="#ff00ff">10</text>
<text transform="translate(654.28,837.20) scale(1.0341,1)" font-family='"Liberation Serif", "Times New Roman", serif' font-size="23.50" font-weight="normal" font-style="normal" fill="#ff00ff">−</text>
<text transform="translate(666.51,835.70) scale(1.0255,1)" font-family='"Liberation Serif", "Times New Roman", serif' font-size="23.50" font-weight="normal" font-style="normal" fill="#ff00ff">5</text>
<text transform="translate(499.90,912.20) scale(1.0829,1)" font-family='"Liberation Serif", "Times New Roman", serif' font-size="40.00" font-weight="normal" font-style="italic" fill="#0000ff">α</text>
<text transform="translate(532.71,915.20) scale(1.0968,1)" font-family='"Liberation Serif", "Times New Roman", serif' font-size="40.00" font-weight="normal" font-style="normal" fill="#0000ff">=</text>
<text transform="translate(563.37,912.20) scale(0.9635,1)" font-family='"Liberation Serif", "Times New Roman", serif' font-size="40.00" font-weight="normal" font-style="normal" fill="#0000ff">3.0</text>
<text transform="translate(613.80,915.30) scale(1.0000,1)" font-family='"Liberation Serif", "Times New Roman", serif' font-size="40.00" font-weight="normal" font-style="normal" fill="#0000ff">×</text>
<text transform="translate(638.21,912.20) scale(0.9400,1)" font-family='"Liberation Serif", "Times New Roman", serif' font-size="40.00" font-weight="normal" font-style="normal" fill="#0000ff">10</text>
<text transform="translate(675.20,896.40) scale(1.0249,1)" font-family='"Liberation Serif", "Times New Roman", serif' font-size="23.50" font-weight="normal" font-style="normal" fill="#0000ff">−</text>
<text transform="translate(687.31,894.90) scale(1.0255,1)" font-family='"Liberation Serif", "Times New Roman", serif' font-size="23.50" font-weight="normal" font-style="normal" fill="#0000ff">5</text>
<text transform="translate(529.19,976.30) scale(1.0927,1)" font-family='"Liberation Serif", "Times New Roman", serif' font-size="40.00" font-weight="normal" font-style="italic" fill="#008000">α</text>
<text transform="translate(561.81,979.30) scale(1.0968,1)" font-family='"Liberation Serif", "Times New Roman", serif' font-size="40.00" font-weight="normal" font-style="normal" fill="#008000">=</text>
<text transform="translate(593.12,976.30) scale(0.9727,1)" font-family='"Liberation Serif", "Times New Roman", serif' font-size="40.00" font-weight="normal" font-style="normal" fill="#008000">4.0</text>
<text transform="translate(644.06,979.40) scale(1.0123,1)" font-family='"Liberation Serif", "Times New Roman", serif' font-size="40.00" font-weight="normal" font-style="normal" fill="#008000">×</text>
<text transform="translate(668.63,976.30) scale(0.9343,1)" font-family='"Liberation Serif", "Times New Roman", serif' font-size="40.00" font-weight="normal" font-style="normal" fill="#008000">10</text>
<text transform="translate(705.61,960.50) scale(1.0158,1)" font-family='"Liberation Serif", "Times New Roman", serif' font-size="23.50" font-weight="normal" font-style="normal" fill="#008000">−</text>
<text transform="translate(717.66,959.00) scale(0.9938,1)" font-family='"Liberation Serif", "Times New Roman", serif' font-size="23.50" font-weight="normal" font-style="normal" fill="#008000">5</text>
<line x1="287.30" y1="1200.20" x2="287.30" y2="1654.40" stroke="#bdbdbd" stroke-width="2.4" stroke-linecap="butt" />
<line x1="825.70" y1="1200.20" x2="825.70" y2="1654.40" stroke="#bdbdbd" stroke-width="2.4" stroke-linecap="butt" />
<g stroke="#000" stroke-width="3.8" stroke-linecap="round">
<line x1="211.45" y1="1654.4" x2="211.45" y2="1648.20"/><line x1="211.45" y1="1200.2" x2="211.45" y2="1206.40"/>
<line x1="320.30" y1="1654.4" x2="320.30" y2="1648.20"/><line x1="320.30" y1="1200.2" x2="320.30" y2="1206.40"/>
<line x1="429.15" y1="1654.4" x2="429.15" y2="1648.20"/><line x1="429.15" y1="1200.2" x2="429.15" y2="1206.40"/>
<line x1="538.00" y1="1654.4" x2="538.00" y2="1648.20"/><line x1="538.00" y1="1200.2" x2="538.00" y2="1206.40"/>
<line x1="646.85" y1="1654.4" x2="646.85" y2="1648.20"/><line x1="646.85" y1="1200.2" x2="646.85" y2="1206.40"/>
<line x1="755.70" y1="1654.4" x2="755.70" y2="1648.20"/><line x1="755.70" y1="1200.2" x2="755.70" y2="1206.40"/>
<line x1="864.55" y1="1654.4" x2="864.55" y2="1648.20"/><line x1="864.55" y1="1200.2" x2="864.55" y2="1206.40"/>
<line x1="973.40" y1="1654.4" x2="973.40" y2="1648.20"/><line x1="973.40" y1="1200.2" x2="973.40" y2="1206.40"/>
<line x1="103.0" y1="1567.86" x2="109.80" y2="1567.86"/><line x1="1005.7" y1="1567.86" x2="998.90" y2="1567.86"/>
<line x1="103.0" y1="1481.32" x2="109.80" y2="1481.32"/><line x1="1005.7" y1="1481.32" x2="998.90" y2="1481.32"/>
<line x1="103.0" y1="1394.78" x2="109.80" y2="1394.78"/><line x1="1005.7" y1="1394.78" x2="998.90" y2="1394.78"/>
<line x1="103.0" y1="1308.24" x2="109.80" y2="1308.24"/><line x1="1005.7" y1="1308.24" x2="998.90" y2="1308.24"/>
<line x1="103.0" y1="1221.70" x2="109.80" y2="1221.70"/><line x1="1005.7" y1="1221.70" x2="998.90" y2="1221.70"/>
</g>
<polyline points="124.30,1654.30 126.02,1654.30 127.75,1654.30 129.47,1654.30 131.19,1654.30 132.91,1654.30 134.64,1654.30 136.36,1654.30 138.08,1654.30 139.81,1654.30 141.53,1654.30 143.25,1654.30 144.97,1654.30 146.70,1654.30 148.42,1654.30 150.14,1654.30 151.87,1654.30 153.59,1654.30 155.31,1654.30 157.03,1654.30 158.76,1654.30 160.48,1654.30 162.20,1654.30 163.93,1654.30 165.65,1654.30 167.37,1654.30 169.09,1654.30 170.82,1654.30 172.54,1654.30 174.26,1654.30 175.99,1654.30 177.71,1654.30 179.43,1654.30 181.15,1654.30 182.88,1654.30 184.60,1654.30 186.32,1654.30 188.05,1654.30 189.77,1654.30 191.49,1654.30 193.21,1654.30 194.94,1654.30 196.66,1654.30 198.38,1654.30 200.11,1654.30 201.83,1654.30 203.55,1654.30 205.27,1654.30 207.00,1654.30 208.72,1654.30 210.44,1654.30 212.17,1654.30 213.89,1654.30 215.61,1654.30 217.33,1654.30 219.06,1654.30 220.78,1654.30 222.50,1654.30 224.23,1654.30 225.95,1654.30 227.67,1654.30 229.39,1654.30 231.12,1654.30 232.84,1654.30 234.56,1654.30 236.28,1654.30 238.01,1654.30 239.73,1654.30 241.45,1654.30 243.18,1654.30 244.90,1654.30 246.62,1654.30 248.34,1654.30 250.07,1654.30 251.79,1654.30 253.51,1654.30 255.24,1654.30 256.96,1654.30 258.68,1654.30 260.40,1654.30 262.13,1654.30 263.85,1654.30 265.57,1654.30 267.30,1654.30 269.02,1654.30 270.74,1654.30 272.46,1654.30 274.19,1654.30 275.91,1654.30 277.63,1654.30 279.36,1654.30 281.08,1654.30 282.80,1654.30 284.52,1654.30 286.25,1654.30 287.97,1654.30 289.69,1654.30 291.42,1654.30 293.14,1654.29 294.86,1654.29 296.58,1654.29 298.31,1654.29 300.03,1654.29 301.75,1654.29 303.48,1654.29 305.20,1654.29 306.92,1654.29 308.64,1654.29 310.37,1654.29 312.09,1654.28 313.81,1654.28 315.54,1654.28 317.26,1654.28 318.98,1654.28 320.70,1654.27 322.43,1654.27 324.15,1654.27 325.87,1654.26 327.60,1654.26 329.32,1654.26 331.04,1654.25 332.76,1654.25 334.49,1654.24 336.21,1654.24 337.93,1654.23 339.66,1654.23 341.38,1654.22 343.10,1654.21 344.82,1654.20 346.55,1654.19 348.27,1654.18 349.99,1654.17 351.72,1654.16 353.44,1654.15 355.16,1654.14 356.88,1654.12 358.61,1654.11 360.33,1654.09 362.05,1654.07 363.78,1654.05 365.50,1654.03 367.22,1654.01 368.94,1653.99 370.67,1653.96 372.39,1653.94 374.11,1653.91 375.84,1653.88 377.56,1653.85 379.28,1653.81 381.00,1653.77 382.73,1653.73 384.45,1653.69 386.17,1653.65 387.90,1653.60 389.62,1653.55 391.34,1653.49 393.06,1653.43 394.79,1653.37 396.51,1653.31 398.23,1653.24 399.96,1653.17 401.68,1653.09 403.40,1653.01 405.12,1652.93 406.85,1652.84 408.57,1652.74 410.29,1652.64 412.02,1652.54 413.74,1652.43 415.46,1652.31 417.18,1652.19 418.91,1652.06 420.63,1651.93 422.35,1651.79 424.08,1651.65 425.80,1651.49 427.52,1651.33 429.24,1651.17 430.97,1651.00 432.69,1650.81 434.41,1650.63 436.14,1650.43 437.86,1650.23 439.58,1650.02 441.30,1649.80 443.03,1649.58 444.75,1649.34 446.47,1649.10 448.19,1648.85 449.92,1648.59 451.64,1648.33 453.36,1648.05 455.09,1647.77 456.81,1647.48 458.53,1647.18 460.25,1646.87 461.98,1646.56 463.70,1646.24 465.42,1645.91 467.15,1645.57 468.87,1645.23 470.59,1644.87 472.31,1644.51 474.04,1644.15 475.76,1643.78 477.48,1643.40 479.21,1643.01 480.93,1642.62 482.65,1642.23 484.37,1641.83 486.10,1641.42 487.82,1641.01 489.54,1640.60 491.27,1640.18 492.99,1639.77 494.71,1639.34 496.43,1638.92 498.16,1638.50 499.88,1638.07 501.60,1637.65 503.33,1637.23 505.05,1636.80 506.77,1636.38 508.49,1635.96 510.22,1635.55 511.94,1635.14 513.66,1634.73 515.39,1634.33 517.11,1633.93 518.83,1633.54 520.55,1633.16 522.28,1632.78 524.00,1632.41 525.72,1632.05 527.45,1631.70 529.17,1631.36 530.89,1631.04 532.61,1630.72 534.34,1630.41 536.06,1630.12 537.78,1629.84 539.51,1629.57 541.23,1629.32 542.95,1629.09 544.67,1628.86 546.40,1628.66 548.12,1628.47 549.84,1628.29 551.57,1628.13 553.29,1627.99 555.01,1627.87 556.73,1627.76 558.46,1627.67 560.18,1627.60 561.90,1627.55 563.63,1627.52 565.35,1627.50 567.07,1627.50 568.79,1627.52 570.52,1627.56 572.24,1627.62 573.96,1627.69 575.69,1627.79 577.41,1627.90 579.13,1628.03 580.85,1628.17 582.58,1628.33 584.30,1628.51 586.02,1628.71 587.75,1628.92 589.47,1629.14 591.19,1629.38 592.91,1629.64 594.64,1629.91 596.36,1630.19 598.08,1630.49 599.81,1630.79 601.53,1631.11 603.25,1631.45 604.97,1631.79 606.70,1632.14 608.42,1632.50 610.14,1632.87 611.87,1633.25 613.59,1633.63 615.31,1634.03 617.03,1634.43 618.76,1634.83 620.48,1635.24 622.20,1635.65 623.93,1636.07 625.65,1636.49 627.37,1636.91 629.09,1637.33 630.82,1637.75 632.54,1638.18 634.26,1638.60 635.99,1639.03 637.71,1639.45 639.43,1639.87 641.15,1640.29 642.88,1640.70 644.60,1641.11 646.32,1641.52 648.05,1641.92 649.77,1642.32 651.49,1642.72 653.21,1643.11 654.94,1643.49 656.66,1643.87 658.38,1644.24 660.11,1644.60 661.83,1644.96 663.55,1645.31 665.27,1645.65 667.00,1645.99 668.72,1646.32 670.44,1646.64 672.16,1646.95 673.89,1647.25 675.61,1647.55 677.33,1647.84 679.06,1648.12 680.78,1648.39 682.50,1648.66 684.22,1648.91 685.95,1649.16 687.67,1649.40 689.39,1649.63 691.12,1649.86 692.84,1650.07 694.56,1650.28 696.28,1650.48 698.01,1650.67 699.73,1650.86 701.45,1651.04 703.18,1651.21 704.90,1651.37 706.62,1651.53 708.34,1651.68 710.07,1651.83 711.79,1651.96 713.51,1652.10 715.24,1652.22 716.96,1652.34 718.68,1652.45 720.40,1652.56 722.13,1652.67 723.85,1652.77 725.57,1652.86 727.30,1652.95 729.02,1653.03 730.74,1653.11 732.46,1653.19 734.19,1653.26 735.91,1653.33 737.63,1653.39 739.36,1653.45 741.08,1653.51 742.80,1653.56 744.52,1653.61 746.25,1653.66 747.97,1653.70 749.69,1653.74 751.42,1653.78 753.14,1653.82 754.86,1653.85 756.58,1653.89 758.31,1653.92 760.03,1653.94 761.75,1653.97 763.48,1654.00 765.20,1654.02 766.92,1654.04 768.64,1654.06 770.37,1654.08 772.09,1654.10 773.81,1654.11 775.54,1654.13 777.26,1654.14 778.98,1654.15 780.70,1654.17 782.43,1654.18 784.15,1654.19 785.87,1654.20 787.60,1654.20 789.32,1654.21 791.04,1654.22 792.76,1654.23 794.49,1654.23 796.21,1654.24 797.93,1654.24 799.66,1654.25 801.38,1654.25 803.10,1654.26 804.82,1654.26 806.55,1654.27 808.27,1654.27 809.99,1654.27 811.72,1654.27 813.44,1654.28 815.16,1654.28 816.88,1654.28 818.61,1654.28 820.33,1654.28 822.05,1654.29 823.78,1654.29 825.50,1654.29 827.22,1654.29 828.94,1654.29 830.67,1654.29 832.39,1654.29 834.11,1654.29 835.84,1654.29 837.56,1654.29 839.28,1654.29 841.00,1654.30 842.73,1654.30 844.45,1654.30 846.17,1654.30 847.90,1654.30 849.62,1654.30 851.34,1654.30 853.06,1654.30 854.79,1654.30 856.51,1654.30 858.23,1654.30 859.96,1654.30 861.68,1654.30 863.40,1654.30 865.12,1654.30 866.85,1654.30 868.57,1654.30 870.29,1654.30 872.02,1654.30 873.74,1654.30 875.46,1654.30 877.18,1654.30 878.91,1654.30 880.63,1654.30 882.35,1654.30 884.07,1654.30 885.80,1654.30 887.52,1654.30 889.24,1654.30 890.97,1654.30 892.69,1654.30 894.41,1654.30 896.13,1654.30 897.86,1654.30 899.58,1654.30 901.30,1654.30 903.03,1654.30 904.75,1654.30 906.47,1654.30 908.19,1654.30 909.92,1654.30 911.64,1654.30 913.36,1654.30 915.09,1654.30 916.81,1654.30 918.53,1654.30 920.25,1654.30 921.98,1654.30 923.70,1654.30 925.42,1654.30 927.15,1654.30 928.87,1654.30 930.59,1654.30 932.31,1654.30 934.04,1654.30 935.76,1654.30 937.48,1654.30 939.21,1654.30 940.93,1654.30 942.65,1654.30 944.37,1654.30 946.10,1654.30 947.82,1654.30 949.54,1654.30 951.27,1654.30 952.99,1654.30 954.71,1654.30 956.43,1654.30 958.16,1654.30 959.88,1654.30 961.60,1654.30 963.33,1654.30 965.05,1654.30 966.77,1654.30 968.49,1654.30 970.22,1654.30 971.94,1654.30 973.66,1654.30 975.39,1654.30 977.11,1654.30 978.83,1654.30 980.55,1654.30 982.28,1654.30 984.00,1654.30" fill="none" stroke="#ff00ff" stroke-width="3.4" stroke-linejoin="round" stroke-dasharray="18.4 10.1" stroke-linecap="round" stroke-dashoffset="22.43"/>
<polyline points="124.30,1654.00 138.87,1581.70 153.43,1512.70 168.00,1448.50 182.56,1393.60 197.13,1348.00 211.70,1312.10 226.26,1285.60 240.83,1270.80 255.39,1265.20 269.96,1269.50 284.53,1281.00 299.09,1299.30 313.66,1323.60 328.22,1350.30 342.79,1380.40 357.36,1410.40 371.92,1440.30 386.49,1469.30 401.05,1496.90 415.62,1521.10 430.19,1542.70 444.75,1560.60 459.32,1574.60 473.88,1584.80 488.45,1593.00 503.02,1598.30 517.58,1602.60 532.15,1605.20 546.71,1606.50 561.28,1606.80 575.85,1606.50 590.41,1605.80 604.98,1604.40 619.54,1602.60 634.11,1600.10 648.68,1597.00 663.24,1593.20 677.81,1588.60 692.37,1583.00 706.94,1577.70 721.51,1571.30 736.07,1562.60 750.64,1553.50 765.20,1542.70 779.77,1532.00 794.34,1521.60 808.90,1511.50 823.47,1504.00 838.03,1499.50 852.60,1498.60 867.17,1499.90 881.73,1505.30 896.30,1514.30 910.86,1527.70 925.43,1545.60 940.00,1567.80 954.56,1594.60 969.13,1623.30 983.69,1654.00" fill="none" stroke="#0000ff" stroke-width="3.2" stroke-linejoin="round" />
<g fill="#0000ff"><circle cx="138.87" cy="1581.70" r="5.0"/><circle cx="153.43" cy="1512.70" r="5.0"/><circle cx="168.00" cy="1448.50" r="5.0"/><circle cx="182.56" cy="1393.60" r="5.0"/><circle cx="197.13" cy="1348.00" r="5.0"/><circle cx="211.70" cy="1312.10" r="5.0"/><circle cx="226.26" cy="1285.60" r="5.0"/><circle cx="240.83" cy="1270.80" r="5.0"/><circle cx="255.39" cy="1265.20" r="5.0"/><circle cx="269.96" cy="1269.50" r="5.0"/><circle cx="284.53" cy="1281.00" r="5.0"/><circle cx="299.09" cy="1299.30" r="5.0"/><circle cx="313.66" cy="1323.60" r="5.0"/><circle cx="328.22" cy="1350.30" r="5.0"/><circle cx="342.79" cy="1380.40" r="5.0"/><circle cx="357.36" cy="1410.40" r="5.0"/><circle cx="371.92" cy="1440.30" r="5.0"/><circle cx="386.49" cy="1469.30" r="5.0"/><circle cx="401.05" cy="1496.90" r="5.0"/><circle cx="415.62" cy="1521.10" r="5.0"/><circle cx="430.19" cy="1542.70" r="5.0"/><circle cx="444.75" cy="1560.60" r="5.0"/><circle cx="459.32" cy="1574.60" r="5.0"/><circle cx="473.88" cy="1584.80" r="5.0"/><circle cx="488.45" cy="1593.00" r="5.0"/><circle cx="503.02" cy="1598.30" r="5.0"/><circle cx="517.58" cy="1602.60" r="5.0"/><circle cx="532.15" cy="1605.20" r="5.0"/><circle cx="546.71" cy="1606.50" r="5.0"/><circle cx="561.28" cy="1606.80" r="5.0"/><circle cx="575.85" cy="1606.50" r="5.0"/><circle cx="590.41" cy="1605.80" r="5.0"/><circle cx="604.98" cy="1604.40" r="5.0"/><circle cx="619.54" cy="1602.60" r="5.0"/><circle cx="634.11" cy="1600.10" r="5.0"/><circle cx="648.68" cy="1597.00" r="5.0"/><circle cx="663.24" cy="1593.20" r="5.0"/><circle cx="677.81" cy="1588.60" r="5.0"/><circle cx="692.37" cy="1583.00" r="5.0"/><circle cx="706.94" cy="1577.70" r="5.0"/><circle cx="721.51" cy="1571.30" r="5.0"/><circle cx="736.07" cy="1562.60" r="5.0"/><circle cx="750.64" cy="1553.50" r="5.0"/><circle cx="765.20" cy="1542.70" r="5.0"/><circle cx="779.77" cy="1532.00" r="5.0"/><circle cx="794.34" cy="1521.60" r="5.0"/><circle cx="808.90" cy="1511.50" r="5.0"/><circle cx="823.47" cy="1504.00" r="5.0"/><circle cx="838.03" cy="1499.50" r="5.0"/><circle cx="852.60" cy="1498.60" r="5.0"/><circle cx="867.17" cy="1499.90" r="5.0"/><circle cx="881.73" cy="1505.30" r="5.0"/><circle cx="896.30" cy="1514.30" r="5.0"/><circle cx="910.86" cy="1527.70" r="5.0"/><circle cx="925.43" cy="1545.60" r="5.0"/><circle cx="940.00" cy="1567.80" r="5.0"/><circle cx="954.56" cy="1594.60" r="5.0"/><circle cx="969.13" cy="1623.30" r="5.0"/></g>
<line x1="415.70" y1="1591.10" x2="466.22" y2="1626.74" stroke="#ff00ff" stroke-width="5.4" stroke-linecap="butt" />
<polygon points="477.50,1634.70 461.14,1632.21 469.67,1620.12" fill="#ff00ff"/>
<rect x="103.00" y="1200.20" width="902.70" height="454.20" fill="none" stroke="#000" stroke-width="4.2" stroke-linejoin="round"/>
<text transform="translate(53.00,1234.60) scale(0.9375,1)" font-family='"Liberation Sans", Arial, sans-serif' font-size="37.00" font-weight="normal" font-style="normal" fill="#000" stroke="#000" stroke-width="0.55" stroke-linejoin="round">10</text>
<text transform="translate(68.57,1321.14) scale(1.1616,1)" font-family='"Liberation Sans", Arial, sans-serif' font-size="37.00" font-weight="normal" font-style="normal" fill="#000" stroke="#000" stroke-width="0.55" stroke-linejoin="round">8</text>
<text transform="translate(68.22,1407.68) scale(1.1804,1)" font-family='"Liberation Sans", Arial, sans-serif' font-size="37.00" font-weight="normal" font-style="normal" fill="#000" stroke="#000" stroke-width="0.55" stroke-linejoin="round">6</text>
<text transform="translate(69.50,1494.22) scale(1.0811,1)" font-family='"Liberation Sans", Arial, sans-serif' font-size="37.00" font-weight="normal" font-style="normal" fill="#000" stroke="#000" stroke-width="0.55" stroke-linejoin="round">4</text>
<text transform="translate(70.40,1580.76) scale(1.0811,1)" font-family='"Liberation Sans", Arial, sans-serif' font-size="37.00" font-weight="normal" font-style="normal" fill="#000" stroke="#000" stroke-width="0.55" stroke-linejoin="round">2</text>
<text transform="translate(68.27,1662.20) scale(1.1660,1)" font-family='"Liberation Sans", Arial, sans-serif' font-size="37.00" font-weight="normal" font-style="normal" fill="#000" stroke="#000" stroke-width="0.55" stroke-linejoin="round">0</text>
<text transform="translate(40.00,1545.28) rotate(-90) scale(0.9887,1)" font-family='"Liberation Sans", Arial, sans-serif' font-size="44.00" font-weight="normal" font-style="normal" fill="#000" stroke="#000" stroke-width="0.55" stroke-linejoin="round">Counts</text>
<text transform="translate(40.00,1395.80) rotate(-90) scale(1.0385,1)" font-family='"Liberation Sans", Arial, sans-serif' font-size="44.00" font-weight="normal" font-style="normal" fill="#000" stroke="#000" stroke-width="0.55" stroke-linejoin="round">/10</text>
<text transform="translate(28.20,1334.22) rotate(-90) scale(1.2008,1)" font-family='"Liberation Sans", Arial, sans-serif' font-size="27.00" font-weight="normal" font-style="normal" fill="#000" stroke="#000" stroke-width="0.55" stroke-linejoin="round">3</text>
<text transform="translate(67.40,1689.70) scale(0.8646,1)" font-family='"Liberation Sans", Arial, sans-serif' font-size="37.00" font-weight="normal" font-style="normal" fill="#000" stroke="#000" stroke-width="0.55" stroke-linejoin="round">1.916</text>
<text transform="translate(173.02,1689.70) scale(0.8208,1)" font-family='"Liberation Sans", Arial, sans-serif' font-size="37.00" font-weight="normal" font-style="normal" fill="#000" stroke="#000" stroke-width="0.55" stroke-linejoin="round">1.917</text>
<text transform="translate(279.29,1689.70) scale(0.8680,1)" font-family='"Liberation Sans", Arial, sans-serif' font-size="37.00" font-weight="normal" font-style="normal" fill="#000" stroke="#000" stroke-width="0.55" stroke-linejoin="round">1.918</text>
<text transform="translate(387.57,1689.70) scale(0.8769,1)" font-family='"Liberation Sans", Arial, sans-serif' font-size="37.00" font-weight="normal" font-style="normal" fill="#000" stroke="#000" stroke-width="0.55" stroke-linejoin="round">1.919</text>
<text transform="translate(492.30,1689.70) scale(0.9725,1)" font-family='"Liberation Sans", Arial, sans-serif' font-size="37.00" font-weight="normal" font-style="normal" fill="#000" stroke="#000" stroke-width="0.55" stroke-linejoin="round">1.920</text>
<text transform="translate(610.37,1689.70) scale(0.8403,1)" font-family='"Liberation Sans", Arial, sans-serif' font-size="37.00" font-weight="normal" font-style="normal" fill="#000" stroke="#000" stroke-width="0.55" stroke-linejoin="round">1.921</text>
<text transform="translate(712.42,1689.70) scale(0.9288,1)" font-family='"Liberation Sans", Arial, sans-serif' font-size="37.00" font-weight="normal" font-style="normal" fill="#000" stroke="#000" stroke-width="0.55" stroke-linejoin="round">1.922</text>
<text transform="translate(820.11,1689.70) scale(0.9326,1)" font-family='"Liberation Sans", Arial, sans-serif' font-size="37.00" font-weight="normal" font-style="normal" fill="#000" stroke="#000" stroke-width="0.55" stroke-linejoin="round">1.923</text>
<text transform="translate(927.89,1689.70) scale(0.9403,1)" font-family='"Liberation Sans", Arial, sans-serif' font-size="37.00" font-weight="normal" font-style="normal" fill="#000" stroke="#000" stroke-width="0.55" stroke-linejoin="round">1.924</text>
<text transform="translate(418.32,1732.40) scale(0.9872,1)" font-family='"Liberation Sans", Arial, sans-serif' font-size="44.00" font-weight="normal" font-style="normal" fill="#000" stroke="#000" stroke-width="0.55" stroke-linejoin="round">Ps lifetime /ns</text>
<text transform="translate(921.46,1254.60) scale(1.0223,1)" font-family='"Liberation Sans", Arial, sans-serif' font-size="40.00" font-weight="bold" font-style="normal" fill="#000" stroke="#000" stroke-width="0.8" stroke-linejoin="round">(c)</text>
<text transform="translate(296.08,1248.60) scale(1.0400,1) skewX(-14)" font-family='"Liberation Serif", "Times New Roman", serif' font-size="45.50" font-weight="normal" font-style="normal" fill="#666666">τ</text>
<text transform="translate(318.81,1259.80) scale(1.1593,1)" font-family='"Liberation Serif", "Times New Roman", serif' font-size="24.50" font-weight="normal" font-style="italic" fill="#666666">n</text>
<text transform="translate(770.82,1248.10) scale(1.1090,1) skewX(-14)" font-family='"Liberation Serif", "Times New Roman", serif' font-size="45.50" font-weight="normal" font-style="normal" fill="#666666">τ</text>
<text transform="translate(795.04,1259.60) scale(1.0982,1)" font-family='"Liberation Serif", "Times New Roman", serif' font-size="25.80" font-weight="normal" font-style="italic" fill="#666666">h</text>
<text transform="translate(391.99,1425.90) scale(1.0878,1)" font-family='"Liberation Serif", "Times New Roman", serif' font-size="40.00" font-weight="normal" font-style="italic" fill="#0000ff">α</text>
<text transform="translate(424.13,1428.90) scale(1.1344,1)" font-family='"Liberation Serif", "Times New Roman", serif' font-size="40.00" font-weight="normal" font-style="normal" fill="#0000ff">=</text>
<text transform="translate(456.24,1425.90) scale(0.9496,1)" font-family='"Liberation Serif", "Times New Roman", serif' font-size="40.00" font-weight="normal" font-style="normal" fill="#0000ff">4.5</text>
<text transform="translate(506.54,1429.00) scale(1.0185,1)" font-family='"Liberation Serif", "Times New Roman", serif' font-size="40.00" font-weight="normal" font-style="normal" fill="#0000ff">×</text>
<text transform="translate(530.70,1425.90) scale(0.9429,1)" font-family='"Liberation Serif", "Times New Roman", serif' font-size="40.00" font-weight="normal" font-style="normal" fill="#0000ff">10</text>
<text transform="translate(567.60,1410.10) scale(1.1897,1)" font-family='"Liberation Serif", "Times New Roman", serif' font-size="23.50" font-weight="normal" font-style="normal" fill="#0000ff">−</text>
<text transform="translate(580.34,1408.60) scale(0.9700,1)" font-family='"Liberation Serif", "Times New Roman", serif' font-size="23.50" font-weight="normal" font-style="normal" fill="#0000ff">4</text>
<text transform="translate(314.88,1583.70) scale(1.0063,1)" font-family='"Liberation Sans", Arial, sans-serif' font-size="27.00" font-weight="bold" font-style="normal" fill="#ff00ff" stroke="#ff00ff" stroke-width="0.8" stroke-linejoin="round">artefact</text>
</svg>
</body></html>
